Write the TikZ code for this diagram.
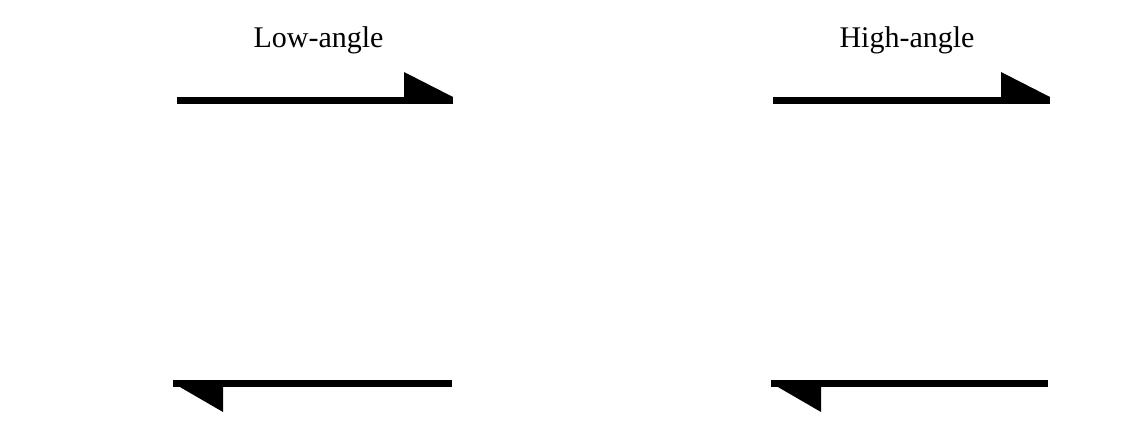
\documentclass[tikz,border=0pt]{standalone}
\usepackage{fontspec}
\setmainfont{Liberation Serif}
\usepackage{tikz}
\usetikzlibrary{calc}

\begin{document}
\begin{tikzpicture}[x=0.75pt,y=-0.75pt]
	\tikzset{
	    mylabel/.style={font=\fontsize{22.5}{27}\selectfont, inner sep=0pt, anchor=base},
	    myarrow/.style={line width=5.25pt, line cap=butt},
	    myhead/.style={fill=black, draw=none}
	}
	\useasboundingbox (0,0) rectangle (1138,446);
	\node[mylabel] (low) at (318.5,47) {Low-angle};
	\node[mylabel] (high) at (907,47) {High-angle};

	\coordinate (lowTopL) at (177,100.5);
	\coordinate (lowTopR) at (453,100.5);
	\coordinate (lowBotR) at (452,383.5);
	\coordinate (lowBotL) at (173,383.5);
	\coordinate (highTopL) at (773,100.5);
	\coordinate (highTopR) at (1050,100.5);
	\coordinate (highBotR) at (1048,383.5);
	\coordinate (highBotL) at (771,383.5);

	\draw[myarrow] (lowTopL) -- (lowTopR);
	\fill[myhead] ($(lowTopR)+(0,-3.5)$) -- ++(-49,0) -- ++(0,-25) -- cycle;
	\draw[myarrow] (lowBotR) -- (lowBotL);
	\fill[myhead] ($(lowBotL)+(0,-3.5)$) -- ++(50,0) -- ++(0,32) -- ($(lowBotL)+(0,-0.5)$) -- cycle;
	\draw[myarrow] (highTopL) -- (highTopR);
	\fill[myhead] ($(highTopR)+(0,-3.5)$) -- ++(-49,0) -- ++(0,-25) -- cycle;
	\draw[myarrow] (highBotR) -- (highBotL);
	\fill[myhead] ($(highBotL)+(0,-3.5)$) -- ++(50,0) -- ++(0,32) -- ($(highBotL)+(0,-0.5)$) -- cycle;
\end{tikzpicture}
\end{document}
